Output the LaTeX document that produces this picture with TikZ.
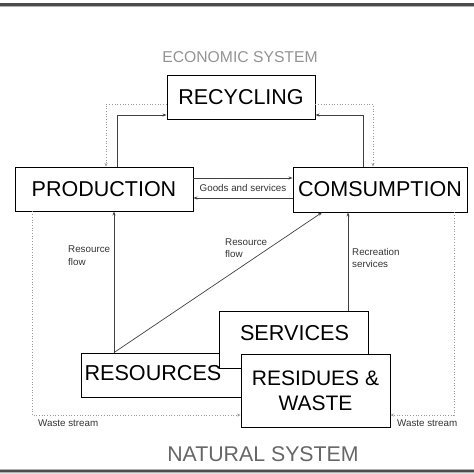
\documentclass[tikz,border=0pt]{standalone}
\usepackage{fontspec}
\setmainfont{Liberation Sans}
\usetikzlibrary{arrows.meta,calc}
\definecolor{lab}{HTML}{333333}
\definecolor{arrc}{HTML}{404040}
\tikzset{
  box/.style={draw=black,line width=0.9pt,fill=white,inner sep=0pt},
  big/.style={font=\fontsize{21.5}{24}\selectfont,text=black},
  small/.style={font=\fontsize{9.8}{12.5}\selectfont,text=lab,align=left,anchor=west,inner sep=0pt},
  arr/.style={draw=arrc,line width=0.7pt,-{Stealth[length=4pt,width=3pt]}},
  dot/.style={draw=gray!80,line width=0.7pt,dotted,-{Stealth[length=3.5pt,width=3pt]}},
}
\begin{document}
\begin{tikzpicture}[x=1pt,y=-1pt]
\useasboundingbox (0,0) rectangle (474,474);
% frame lines
\fill[gray!60] (0,2.5) rectangle (474,6.5);
\fill[black!70] (0,3.3) rectangle (474,5.7);
\fill[gray!25] (0,472) rectangle (474,474);
\fill[gray!60] (0,469) rectangle (474,473);
\fill[black!70] (0,469.8) rectangle (474,472.2);
% titles
\node[font=\fontsize{15.7}{18}\selectfont,text=gray!85] (eco) at (240,57) {ECONOMIC SYSTEM};
\node[font=\fontsize{21.3}{24}\selectfont,text=black!60] (nat) at (263,454) {NATURAL SYSTEM};
% boxes
\node[box,minimum width=148pt,minimum height=44pt,big] (rec) at (241,97) {RECYCLING};
\node[box,minimum width=178pt,minimum height=44pt,big] (prod) at (104,189) {PRODUCTION};
\node[box,minimum width=174pt,minimum height=45pt,big] (com) at (380,189.5) {COMSUMPTION};
\node[box,minimum width=219pt,minimum height=44pt] (resbox) at (190.5,375) {};
\node[box,minimum width=149pt,minimum height=57pt] (serv) at (293.5,339.5) {};
\node[big,font=\fontsize{21.6}{24}\selectfont] (servt) at (294.5,333) {SERVICES};
\node[big,font=\fontsize{21.6}{24}\selectfont] (rest) at (153,373.5) {RESOURCES};
\node[box,minimum width=149pt,minimum height=73pt,align=center,font=\fontsize{21}{25}\selectfont] (resid) at (315.5,390.5) {RESIDUES \&\\WASTE};
% recycling loops
\draw[arr] ([xshift=13pt]prod.north) |- ([yshift=-18pt]rec.west);
\draw[dot] ([yshift=-7pt]rec.west) -| ([xshift=2pt]prod.north);
\draw[arr] ([xshift=-17pt]com.north) |- ([yshift=-18pt]rec.east);
\draw[dot] ([yshift=-7pt]rec.east) -| ([xshift=-7pt]com.north);
% goods and services
\draw[arr] ([yshift=11pt]prod.east) -- ([yshift=11.5pt]com.west);
\draw[arr] ([yshift=-8.5pt]com.west) -- ([yshift=-9pt]prod.east);
\node[font=\fontsize{9.8}{12}\selectfont,text=lab] (gs) at (243,188) {Goods and services};
% resource flows
\coordinate (rtop) at ([xshift=-76.5pt]resbox.north);
\draw[arr] (rtop) -- ([xshift=10pt]prod.south);
\draw[arr] (rtop) -- ([xshift=-58pt]com.south);
\draw[arr] ([xshift=54.5pt]serv.north) -- ([xshift=-32pt]com.south);
\node[small] (rf1) at (68,255.5) {Resource\\flow};
\node[small] (rf2) at (225,248) {Resource\\flow};
\node[small] (rs) at (352,258) {Recreation\\services};
% waste streams
\draw[dot] ([xshift=-72pt]prod.south) |- ([yshift=-24.5pt]resid.west);
\draw[dot] ([xshift=74pt]com.south) |- ([yshift=-24.5pt]resid.east);
\node[small] (ws1) at (38,423) {Waste stream};
\node[small] (ws2) at (397,423) {Waste stream};
\end{tikzpicture}
\end{document}
